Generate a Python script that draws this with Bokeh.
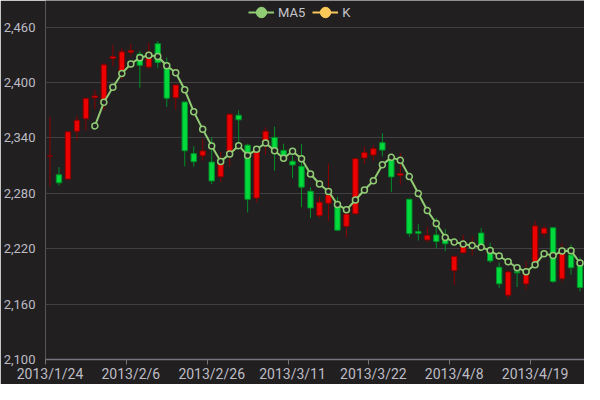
from bokeh.plotting import figure
from bokeh.models import (ColumnDataSource, FixedTicker, NumeralTickFormatter,
                          Legend, LegendItem, Range1d)
from bokeh.embed import file_html
from bokeh.resources import INLINE

# daily K data: date, open, close, low, high
dates = ['2013/1/24', '2013/1/25', '2013/1/28', '2013/1/29', '2013/1/30', '2013/1/31',
         '2013/2/1', '2013/2/4', '2013/2/5', '2013/2/6', '2013/2/7', '2013/2/8',
         '2013/2/18', '2013/2/19', '2013/2/20', '2013/2/21', '2013/2/22', '2013/2/25',
         '2013/2/26', '2013/2/27', '2013/2/28', '2013/3/1', '2013/3/4', '2013/3/5',
         '2013/3/6', '2013/3/7', '2013/3/8', '2013/3/11', '2013/3/12', '2013/3/13',
         '2013/3/14', '2013/3/15', '2013/3/18', '2013/3/19', '2013/3/20', '2013/3/21',
         '2013/3/22', '2013/3/25', '2013/3/26', '2013/3/27', '2013/3/28', '2013/3/29',
         '2013/4/1', '2013/4/2', '2013/4/3', '2013/4/8', '2013/4/9', '2013/4/10',
         '2013/4/11', '2013/4/12', '2013/4/15', '2013/4/16', '2013/4/17', '2013/4/18',
         '2013/4/19', '2013/4/22', '2013/4/23', '2013/4/24', '2013/4/25', '2013/4/26']
opens = [2320.26, 2300, 2295.35, 2347.22, 2360.75, 2383.43, 2377.41, 2425.92, 2411, 2432.68,
         2430.69, 2416.62, 2441.91, 2420.26, 2383.49, 2378.82, 2322.94, 2320.62, 2313.74, 2297.77,
         2322.32, 2364.54, 2332.08, 2274.81, 2333.61, 2340.44, 2326.42, 2314.68, 2309.16, 2282.17,
         2255.77, 2269.31, 2267.29, 2244.26, 2257.74, 2318.21, 2321.4, 2334.74, 2318.58, 2299.38,
         2273.55, 2238.49, 2229.46, 2234.9, 2232.69, 2196.24, 2215.47, 2224.93, 2236.98, 2218.09,
         2199.91, 2169.63, 2195.03, 2181.82, 2201.12, 2236.4, 2242.62, 2187.35, 2213.19, 2203.89]
closes = [2320.26, 2291.3, 2346.5, 2358.98, 2382.48, 2385.42, 2419.02, 2428.15, 2433.13, 2434.48,
          2418.53, 2432.4, 2421.56, 2382.91, 2397.18, 2325.95, 2314.16, 2325.82, 2293.34, 2313.22,
          2365.59, 2359.51, 2273.4, 2326.31, 2347.18, 2324.29, 2318.61, 2310.59, 2286.6, 2263.97,
          2270.28, 2278.4, 2240.02, 2257.43, 2317.37, 2324.24, 2328.28, 2326.72, 2297.67, 2301.26,
          2236.3, 2236.62, 2234.4, 2227.74, 2225.29, 2211.59, 2225.77, 2226.13, 2219.55, 2206.78,
          2181.94, 2194.85, 2193.8, 2197.6, 2244.64, 2242.17, 2184.54, 2218.32, 2199.31, 2177.91]
lows = [2287.3, 2288.26, 2295.35, 2337.35, 2347.89, 2371.23, 2369.57, 2417.58, 2403.3, 2427.7,
        2394.22, 2414.4, 2415.43, 2373.53, 2370.61, 2309.17, 2308.76, 2315.01, 2289.89, 2292.03,
        2308.92, 2330.86, 2259.25, 2270.1, 2321.6, 2304.27, 2314.59, 2296.58, 2264.83, 2253.25,
        2253.31, 2250, 2239.21, 2232.02, 2257.42, 2311.6, 2314.97, 2319.91, 2281.12, 2289,
        2232.91, 2228.81, 2227.31, 2220.44, 2217.25, 2180.67, 2215.47, 2212.56, 2217.26, 2204.44,
        2177.39, 2165.78, 2178.47, 2175.44, 2200.58, 2232.26, 2182.81, 2184.11, 2191.85, 2173.86]
highs = [2362.94, 2308.38, 2346.92, 2363.8, 2383.76, 2391.82, 2421.15, 2440.38, 2437.42, 2441.73,
         2433.89, 2443.03, 2444.8, 2427.07, 2397.94, 2378.82, 2330.88, 2338.78, 2340.71, 2324.63,
         2366.16, 2369.65, 2333.54, 2328.14, 2351.44, 2352.02, 2333.67, 2320.96, 2333.29, 2286.33,
         2276.22, 2312.08, 2276.05, 2261.31, 2317.86, 2330.81, 2332, 2344.89, 2319.99, 2323.48,
         2273.55, 2246.87, 2243.95, 2253.42, 2241.34, 2212.59, 2234.73, 2233.04, 2242.48, 2226.26,
         2204.99, 2196.43, 2197.51, 2206.03, 2250.11, 2245.12, 2242.62, 2226.12, 2224.63, 2210.58]

y_ticks = [2100, 2160, 2220, 2280, 2340, 2400, 2460]
label_idx = [0, 9, 18, 27, 36, 45, 54]

bg = "#211f20"
up_fill, up_line = "#ec0000", "#8a0000"
down_fill, down_line = "#00da3c", "#008f28"
ma_color = "#91cc75"
k_color = "#fac858"
text_color = "#bdbcc5"
axis_color = "#75747c"
font = "Roboto"

n = len(dates)
idx = list(range(n))
rising = [c >= o for o, c in zip(opens, closes)]
src = ColumnDataSource(dict(
    x=idx,
    top=[max(o, c) for o, c in zip(opens, closes)],
    bottom=[min(o, c) for o, c in zip(opens, closes)],
    low=lows, high=highs,
    fill=[up_fill if r else down_fill for r in rising],
    line=[up_line if r else down_line for r in rising],
))

# MA5 as in the original chart: starts at the 6th day
ma_x, ma_y = [], []
for i in range(5, n):
    ma_x.append(i)
    ma_y.append(round(sum(closes[i - 4:i + 1]) / 5, 3))

W, H = 584, 384
BOTTOM = 23
p = figure(width=W, height=H, output_backend="svg", toolbar_location=None,
           x_range=Range1d(-0.5, n - 0.5), y_range=Range1d(2100, 2488.7),
           min_border_left=45, min_border_right=0, min_border_top=0,
           min_border_bottom=BOTTOM,
           background_fill_color=bg, border_fill_color=bg, outline_line_color=None)

p.segment(x0='x', y0='low', x1='x', y1='high', line_color='line', line_width=1, source=src)
p.vbar(x='x', width=0.6, top='top', bottom='bottom', fill_color='fill',
       line_color='line', line_width=1, source=src)

p.line(ma_x, ma_y, line_color=ma_color, line_width=2)
p.scatter(ma_x, ma_y, size=6, fill_color=bg, line_color=ma_color, line_width=1.5)

# axes
xax = p.xaxis[0]
xax.ticker = FixedTicker(ticks=label_idx, minor_ticks=[i - 0.5 for i in label_idx])
xax.major_label_overrides = {i: dates[i] for i in label_idx}
xax.axis_line_color = axis_color
xax.axis_line_width = 1.5
xax.major_tick_line_color = None
xax.major_tick_out = 0
xax.major_tick_in = 0
xax.minor_tick_line_color = axis_color
xax.minor_tick_out = 5
xax.minor_tick_in = 0
xax.major_label_standoff = 1
xax.major_label_text_color = text_color
xax.major_label_text_font = font
xax.major_label_text_font_size = "14px"

yax = p.yaxis[0]
yax.ticker = FixedTicker(ticks=y_ticks)
yax.formatter = NumeralTickFormatter(format="0,0")
yax.axis_line_color = None
yax.major_tick_line_color = None
yax.minor_tick_line_color = None
yax.major_tick_out = 0
yax.major_label_standoff = 10
yax.major_label_text_color = text_color
yax.major_label_text_font = font
yax.major_label_text_font_size = "13px"

p.xgrid.grid_line_color = None
p.ygrid.grid_line_color = "#414042"
p.ygrid.grid_line_width = 1

# legend icons: one NaN point each so nothing shows in the plot
nan = float("nan")
lg_ma_line = p.line([0], [nan], line_color=ma_color, line_width=2)
lg_ma_dot = p.scatter([0], [nan], fill_color=ma_color, line_color=ma_color)
lg_k_line = p.line([0], [nan], line_color=k_color, line_width=2)
lg_k_dot = p.scatter([0], [nan], fill_color=k_color, line_color=k_color)

frame_h = H - BOTTOM
legend = Legend(items=[LegendItem(label="MA5", renderers=[lg_ma_line, lg_ma_dot]),
                       LegendItem(label="K", renderers=[lg_k_line, lg_k_dot])],
                orientation="horizontal", location=(203, frame_h - 28),
                glyph_width=26, glyph_height=28, label_height=14, label_standoff=4,
                spacing=7, padding=0, margin=0,
                background_fill_alpha=0, border_line_alpha=0,
                label_text_color="#c6c5cc", label_text_font=font,
                label_text_font_size="13px")
p.add_layout(legend, "center")

open("out.html", "w").write(file_html(p, INLINE))
